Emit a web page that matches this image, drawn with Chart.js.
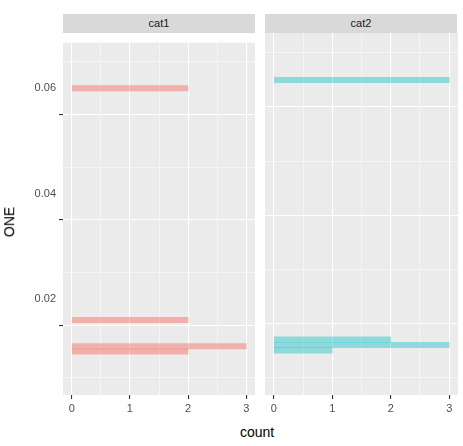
<!DOCTYPE html>
<html><head><meta charset="utf-8">
<script src="https://cdn.jsdelivr.net/npm/chart.js@4"></script>
<style>
body{margin:0;background:#fff;font-family:"Liberation Sans",Arial,sans-serif;}
.strip{position:absolute;top:14px;height:19px;background:#D9D9D9;color:#1A1A1A;font-size:11px;text-align:center;line-height:19px;}
.wrap{position:absolute;top:33px;height:390px;}
.lab{position:absolute;font-size:14px;color:#000;}
</style></head><body>
<div class="strip" style="left:63px;width:192px">cat1</div>
<div class="strip" style="left:265px;width:192px">cat2</div>
<div class="wrap" style="left:0;width:256px"><canvas id="c1"></canvas></div>
<div class="wrap" style="left:256px;width:202px"><canvas id="c2"></canvas></div>
<div class="lab" style="left:240px;top:424px">count</div>
<div class="lab" style="left:-6px;top:214px;transform:rotate(-90deg)">ONE</div>
<script>
// bin centres (ONE) and counts per facet
const cat1Bins = [0.010, 0.011, 0.016, 0.060];
const cat1Counts = [2, 3, 2, 2];
const cat2Bins = [0.010, 0.011, 0.012, 0.060];
const cat2Counts = [1, 3, 2, 3];
const yTicks = [0.02, 0.04, 0.06];
const xTicks = [0, 1, 2, 3];
const binWidth = 0.001;

const isMajor = (list, v) => list.some(t => Math.abs(t - v) < 1e-9);

const bg = {
  id: "bg",
  beforeDraw(ch) {
    const a = ch.chartArea, c = ch.ctx;
    c.fillStyle = "#EBEBEB";
    c.fillRect(a.left, a.top, a.right - a.left, a.bottom - a.top);
  }
};

function makeChart(id, bins, counts, color, showY) {
  const ch = new Chart(document.getElementById(id), {
    type: "bar",
    data: { datasets: [{ data: bins.map((b, i) => ({ x: counts[i], y: b })), backgroundColor: color, barThickness: 6 }] },
    plugins: [bg],
    options: {
      indexAxis: "y", animation: false, responsive: true, maintainAspectRatio: false,
      layout: { padding: { right: showY ? 1 : 0, left: showY ? 0 : 9 } },
      plugins: { legend: { display: false }, tooltip: { enabled: false } },
      scales: {
        x: {
          type: "linear", min: -0.15, max: 3.15,
          afterBuildTicks: s => { s.ticks = [0, 0.5, 1, 1.5, 2, 2.5, 3].map(v => ({ value: v })); },
          afterFit: s => { s.height = 28; },
          grid: { color: "#fff", lineWidth: c => (c.tick && isMajor(xTicks, c.tick.value)) ? 1.1 : 0.5, tickColor: c => (c.tick && isMajor(xTicks, c.tick.value)) ? "#333" : "rgba(0,0,0,0)", tickLength: 4 },
          border: { display: false },
          ticks: { color: "#4D4D4D", font: { size: 11 }, autoSkip: false, maxRotation: 0, callback: v => isMajor(xTicks, v) ? String(Math.round(v)) : "" }
        },
        y: {
          type: "linear", min: 0.00733, max: 0.0631,
          afterBuildTicks: s => { s.ticks = [0.01, 0.02, 0.03, 0.04, 0.05, 0.06].map(v => ({ value: v })); },
          afterFit: s => { s.width = showY ? 63 : 0; },
          grid: { color: "#fff", lineWidth: c => (c.tick && isMajor(yTicks, c.tick.value)) ? 1.1 : 0.5, tickColor: c => (c.tick && isMajor(yTicks, c.tick.value) && showY) ? "#333" : "rgba(0,0,0,0)", tickLength: 4 },
          border: { display: false },
          ticks: { display: showY, color: "#4D4D4D", font: { size: 11 }, autoSkip: false, callback: v => isMajor(yTicks, v) ? v.toFixed(2) : "" }
        }
      }
    }
  });
  const s = ch.scales.y;
  ch.data.datasets[0].barThickness = Math.abs(s.getPixelForValue(0.02) - s.getPixelForValue(0.02 + binWidth));
  ch.update();
}
makeChart("c1", cat1Bins, cat1Counts, "rgba(248,118,109,0.5)", true);
makeChart("c2", cat2Bins, cat2Counts, "rgba(0,191,196,0.4)", false);
</script>
</body></html>
